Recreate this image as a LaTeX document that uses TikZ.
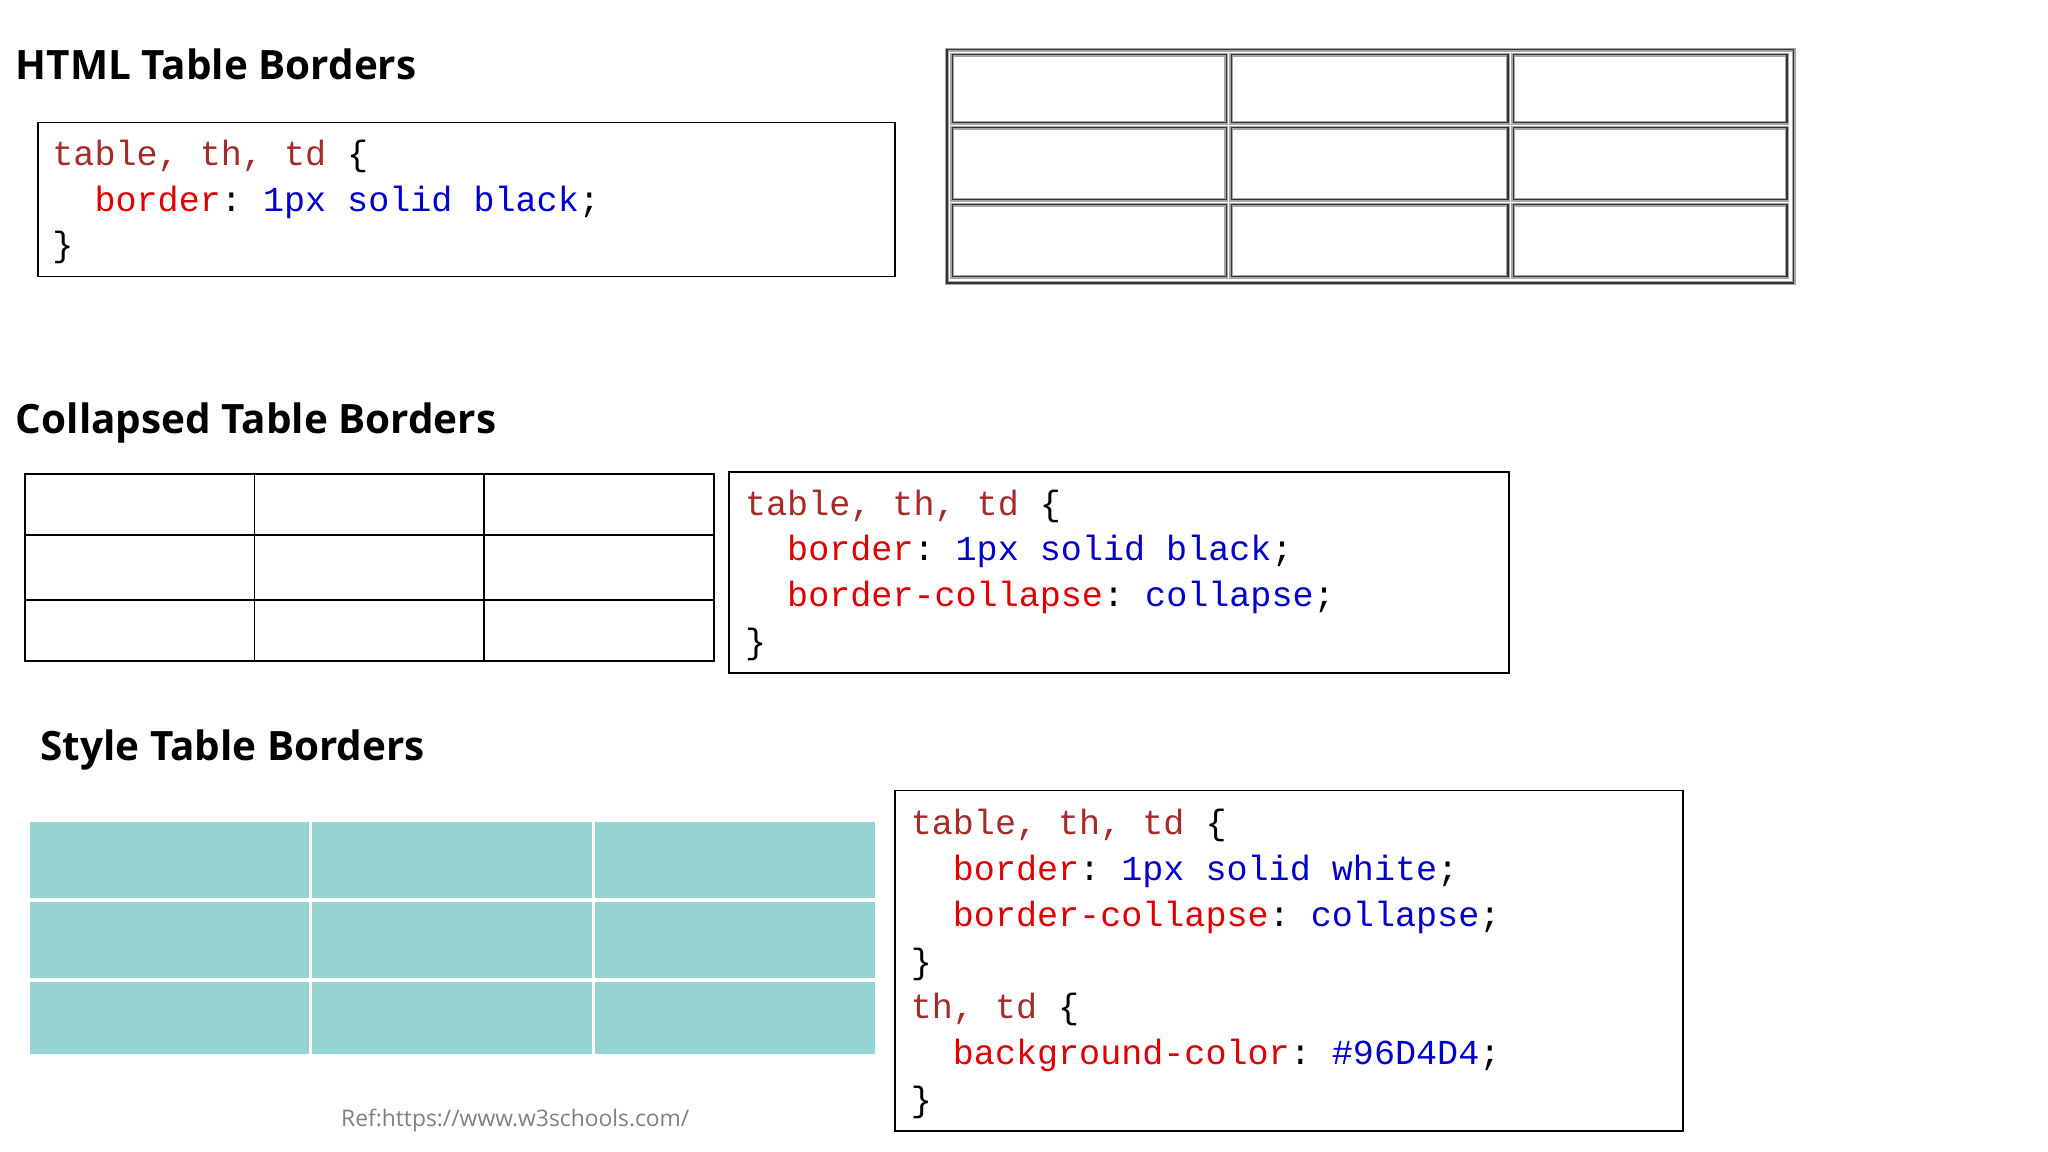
\documentclass[tikz,border=0pt]{standalone}
\usepackage{fontspec}
\setmainfont{Open Sans}
\setmonofont{Liberation Mono}
\definecolor{sel}{HTML}{A52A2A}
\definecolor{prop}{HTML}{E00000}
\definecolor{val}{HTML}{0000CD}
\definecolor{teal}{HTML}{96D4D4}
\newcommand{\csel}[1]{\textcolor{sel}{#1}}
\newcommand{\cprop}[1]{\textcolor{prop}{#1}}
\newcommand{\cval}[1]{\textcolor{val}{#1}}
\begin{document}
\begin{tikzpicture}[x=1pt,y=-1pt,
  title/.style={anchor=west,font=\fontsize{31}{36}\selectfont\bfseries,inner sep=0},
  code/.style={anchor=base west,font=\fontsize{26.9}{30}\ttfamily,inner sep=0},
  box/.style={draw,line width=1.2pt}]
\useasboundingbox (0,0) rectangle (1570,883);
% Section 1
\node[title] (t1) at (12,49) {HTML Table Borders};
\draw[box] (29,94) rectangle (686,212);
\node[code] (c11) at (40,127) {\csel{table, th, td} \{};
\node[code] (c12) at (40,162) {\ \ \cprop{border}: \cval{1px solid black};};
\node[code] (c13) at (40,197) {\}};
\draw[line width=3pt,gray!70] (726,38) rectangle (1375,217);
\draw[line width=1pt,black!80] (726,38) rectangle (1375,217);
\foreach \xa/\xb in {730/940,944/1156,1160/1370}
  \foreach \ya/\yb in {42/94,98/153,157/212}{
    \draw[line width=3pt,gray!70] (\xa,\ya) rectangle (\xb,\yb);
    \draw[line width=1pt,black!80] (\xa,\ya) rectangle (\xb,\yb);}
% Section 2
\node[title] (t2) at (12,324) {Collapsed Table Borders};
\draw[line width=1.5pt] (19,363) rectangle (547,507);
\draw[line width=1.2pt] (195,363) -- (195,507) (371,363) -- (371,507)
  (19,410) -- (547,410) (19,460) -- (547,460);
\draw[box] (559,362) rectangle (1157,516);
\node[code] (c21) at (571,395) {\csel{table, th, td} \{};
\node[code] (c22) at (571,430) {\ \ \cprop{border}: \cval{1px solid black};};
\node[code] (c23) at (571,465) {\ \ \cprop{border-collapse}: \cval{collapse};};
\node[code] (c24) at (571,501) {\}};
% Section 3
\node[title] (t3) at (31,575) {Style Table Borders};
\fill[teal] (23,630) rectangle (671,808);
\draw[white,line width=3pt] (238,630) -- (238,808) (455,630) -- (455,808)
  (23,690) -- (671,690) (23,751) -- (671,751);
\draw[box] (686,606) rectangle (1290,867);
\node[code] (c31) at (698,640) {\csel{table, th, td} \{};
\node[code] (c32) at (698,675) {\ \ \cprop{border}: \cval{1px solid white};};
\node[code] (c33) at (698,710) {\ \ \cprop{border-collapse}: \cval{collapse};};
\node[code] (c34) at (698,746) {\}};
\node[code] (c35) at (698,781) {\csel{th, td} \{};
\node[code] (c36) at (698,816) {\ \ \cprop{background-color}: \cval{\#96D4D4};};
\node[code] (c37) at (698,852) {\}};
\node[font=\fontsize{17.5}{20}\selectfont,text=gray] (ref) at (395,859) {Ref:https://www.w3schools.com/};
\end{tikzpicture}
\end{document}
